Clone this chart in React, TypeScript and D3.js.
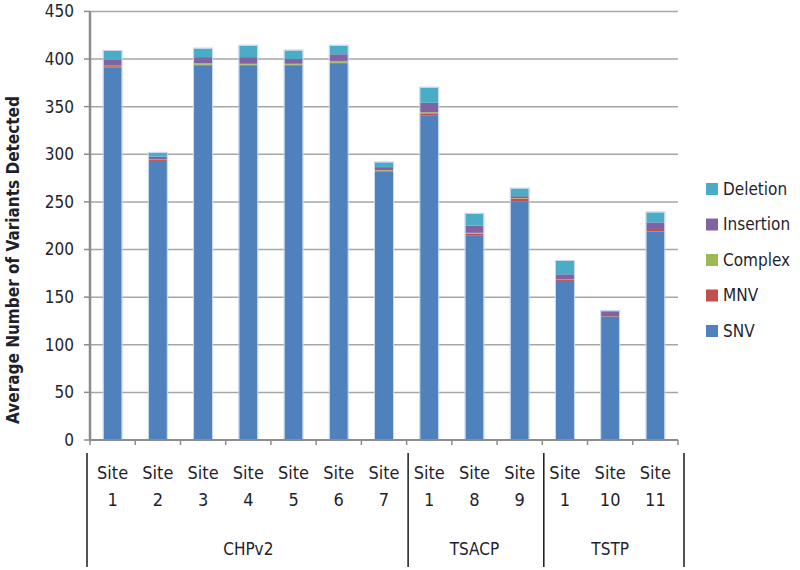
import React, { useEffect } from 'react';
import * as d3 from 'd3';

// categories
const siteNums = ['1', '2', '3', '4', '5', '6', '7', '1', '8', '9', '1', '10', '11'];
const groupNames = ['CHPv2', 'TSACP', 'TSTP'];
const groupSizes = [7, 3, 3];

// series values (stacked bottom to top)
const snv = [391, 293, 393, 393, 393, 395, 282, 341, 215, 250.5, 167, 129.5, 219];
const mnv = [1.5, 1, 1, 1, 1, 1, 1, 2, 1.5, 3, 1, 0.5, 1.5];
const complex = [0.5, 0.5, 1.5, 1, 1, 2, 0.5, 1, 1, 0.5, 0.5, 0, 0];
const insertion = [6.5, 3, 6.5, 7, 5, 7, 3, 10, 7.5, 2, 5.5, 4.5, 8];
const deletion = [9, 4, 9, 12, 9, 9, 5, 16, 12.5, 8, 14, 1, 10.5];

const seriesNames = ['SNV', 'MNV', 'Complex', 'Insertion', 'Deletion'];
const seriesColors = ['#4f81bd', '#c0504d', '#9bbb59', '#8064a2', '#4bacc6'];
const yTicks = [0, 50, 100, 150, 200, 250, 300, 350, 400, 450];

const FONT = '"Liberation Sans Narrow", "DejaVu Sans Condensed", "Roboto Condensed", sans-serif';

export default function App() {
    useEffect(() => {
        document.body.style.margin = '0';
    }, []);

    const left = 90, right = 678, top = 11.4, bottom = 440;

    const x = d3.scaleBand<number>()
        .domain(d3.range(siteNums.length))
        .range([left, right])
        .paddingInner(0.6)
        .paddingOuter(0.3);
    const step = x.step();

    const y = d3.scaleLinear().domain([0, 450]).range([bottom, top]);

    const rows = siteNums.map((_, i) => ({
        SNV: snv[i], MNV: mnv[i], Complex: complex[i], Insertion: insertion[i], Deletion: deletion[i],
    }));
    const stacked = d3.stack<any>().keys(seriesNames)(rows);

    // group boundaries (category index where each group starts)
    const bounds = [0];
    groupSizes.forEach(s => bounds.push(bounds[bounds.length - 1] + s));
    const boundX = (k: number) => left + k * step;
    const sepX = bounds.map((b, i) => boundX(b) + (i === 0 ? -3 : i === bounds.length - 1 ? 6 : 1.5));

    return (
        <svg width={800} height={570} style={{ display: 'block', background: '#fff' }} fontFamily={FONT}>
            {/* gridlines */}
            {yTicks.filter(t => t > 0).map(t => (
                <line key={'g' + t} x1={left} x2={right} y1={y(t)} y2={y(t)} stroke="#a6a6a6" strokeWidth={1.5} />
            ))}

            {/* bars */}
            {stacked.map((s, si) => (
                <g key={s.key} fill={seriesColors[si]}>
                    {s.map((d, i) => (
                        <rect key={i} x={x(i)} width={x.bandwidth()} y={y(d[1])} height={Math.max(0, y(d[0]) - y(d[1]))} />
                    ))}
                </g>
            ))}
            {stacked[stacked.length - 1].map((d, i) => (
                <rect key={'o' + i} x={x(i)! - 0.5} width={x.bandwidth() + 1} y={y(d[1]) - 0.5} height={y(0) - y(d[1]) + 0.5}
                    fill="none" stroke="#c6d6ec" strokeWidth={1} />
            ))}

            {/* y axis */}
            <line x1={left} x2={left} y1={top} y2={bottom} stroke="#8c8c8c" strokeWidth={2.5} />
            {yTicks.map(t => (
                <g key={'y' + t}>
                    <line x1={left - 6} x2={left} y1={y(t)} y2={y(t)} stroke="#8c8c8c" strokeWidth={1.5} />
                    <text x={left - 16} y={y(t)} dy="0.35em" textAnchor="end" fontSize={17} fill="#1f1f2e">{t}</text>
                </g>
            ))}
            <text transform={`translate(19,260) rotate(-90)`} textAnchor="middle"
                fontSize={17} fontWeight="bold" fill="#1f1f2e">Average Number of Variants Detected</text>

            {/* x axis */}
            <line x1={left} x2={right} y1={bottom} y2={bottom} stroke="#8c8c8c" strokeWidth={2} />
            {d3.range(siteNums.length + 1).map(k => (
                <line key={'xt' + k} x1={boundX(k)} x2={boundX(k)} y1={bottom} y2={bottom + 5} stroke="#8c8c8c" strokeWidth={1.5} />
            ))}
            {siteNums.map((n, i) => (
                <g key={'xl' + i} textAnchor="middle" fontSize={18} fill="#1f1f2e">
                    <text x={x(i)! + x.bandwidth() / 2} y={479}>Site</text>
                    <text x={x(i)! + x.bandwidth() / 2} y={506}>{n}</text>
                </g>
            ))}

            {/* group separators and labels */}
            {sepX.map((sx, i) => (
                <line key={'s' + i} x1={sx} x2={sx} y1={453} y2={567} stroke="#1a1a1a" strokeWidth={1.5} />
            ))}
            {groupNames.map((g, i) => (
                <text key={g} x={(boundX(bounds[i]) + boundX(bounds[i + 1])) / 2} y={555} textAnchor="middle"
                    fontSize={17} fill="#1f1f2e">{g}</text>
            ))}

            {/* legend */}
            {seriesNames.slice().reverse().map((name, i) => {
                const ci = seriesNames.length - 1 - i;
                const ly = 189 + i * 35.5;
                return (
                    <g key={name}>
                        <rect x={706} y={ly - 6} width={12} height={12} fill={seriesColors[ci]} />
                        <text x={723} y={ly} dy="0.35em" fontSize={17} fill="#1f1f2e">{name}</text>
                    </g>
                );
            })}
        </svg>
    );
}
